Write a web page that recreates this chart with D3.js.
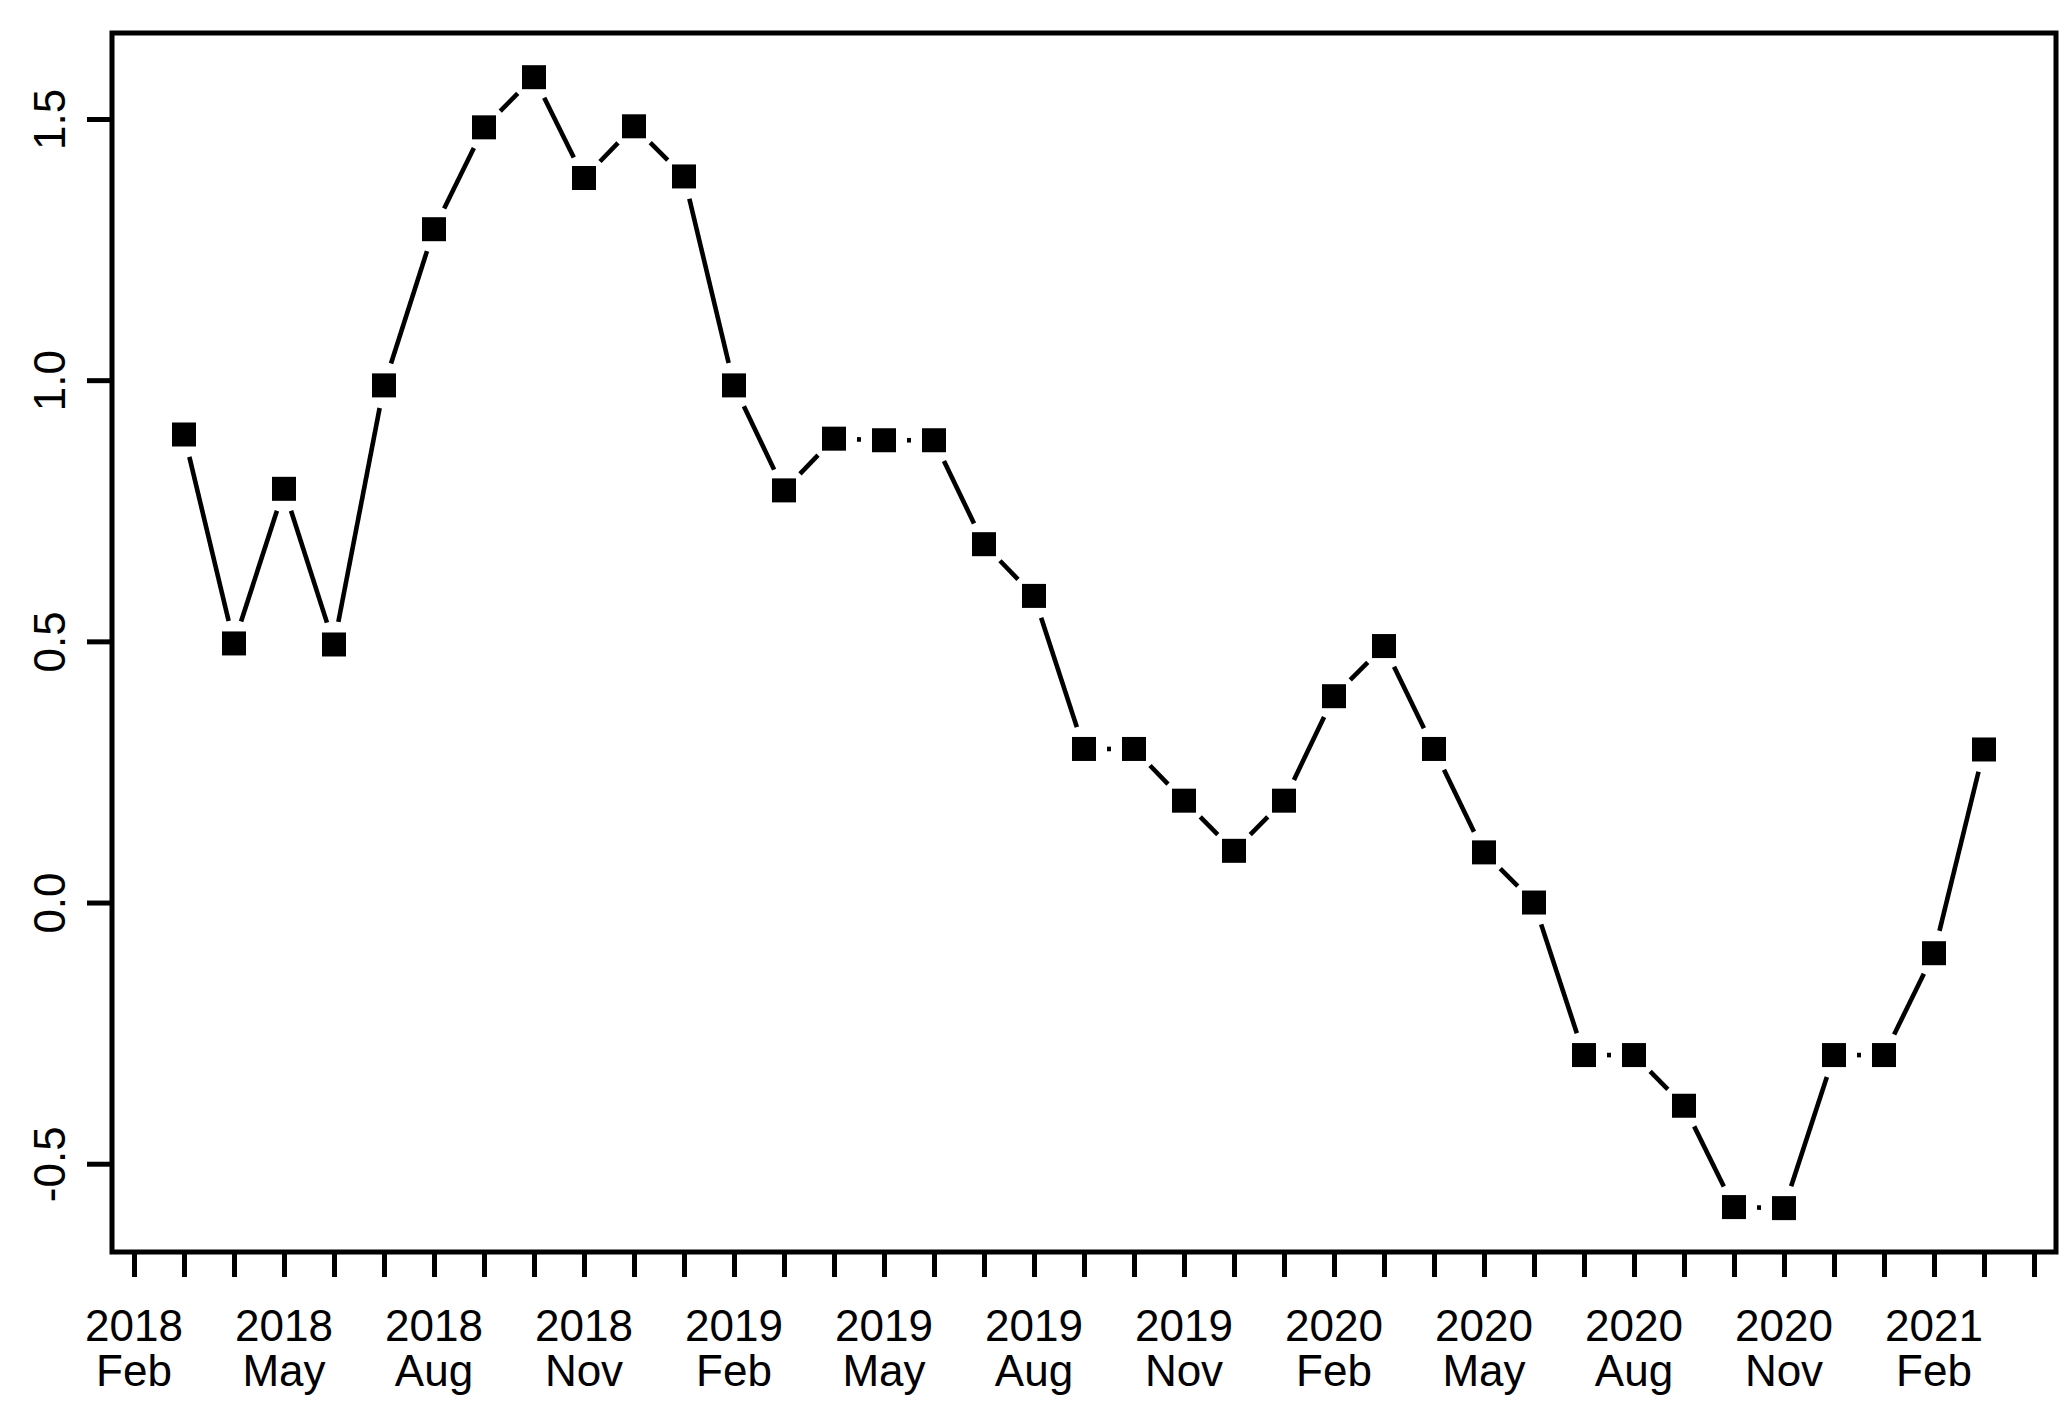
<!DOCTYPE html>
<html>
<head>
<meta charset="utf-8">
<script src="https://cdn.jsdelivr.net/npm/d3@7"></script>
<style>
  html, body { margin: 0; padding: 0; background: #ffffff; }
  svg { display: block; }
  text { font-family: "Liberation Sans", Arial, Helvetica, sans-serif; fill: #000; }
</style>
</head>
<body>
<svg id="chart" width="2072" height="1413"></svg>
<script>
// ---------- data ----------
const months = [
  "2018-03","2018-04","2018-05","2018-06","2018-07","2018-08","2018-09","2018-10","2018-11","2018-12",
  "2019-01","2019-02","2019-03","2019-04","2019-05","2019-06","2019-07","2019-08","2019-09","2019-10","2019-11","2019-12",
  "2020-01","2020-02","2020-03","2020-04","2020-05","2020-06","2020-07","2020-08","2020-09","2020-10","2020-11","2020-12",
  "2021-01","2021-02","2021-03"
];
const values = [
  0.896, 0.496, 0.792, 0.494, 0.990, 1.289, 1.484, 1.580, 1.387, 1.486,
  1.390, 0.990, 0.789, 0.888, 0.885, 0.885, 0.686, 0.587, 0.294, 0.294, 0.195, 0.099,
  0.195, 0.395, 0.491, 0.294, 0.096, 0.000, -0.292, -0.292, -0.389, -0.583, -0.585, -0.292,
  -0.292, -0.097, 0.293
];
// x-axis ticks (every month), labelled every third month
const tickMonths = [
  "2018-02","2018-03","2018-04","2018-05","2018-06","2018-07","2018-08","2018-09","2018-10","2018-11","2018-12",
  "2019-01","2019-02","2019-03","2019-04","2019-05","2019-06","2019-07","2019-08","2019-09","2019-10","2019-11","2019-12",
  "2020-01","2020-02","2020-03","2020-04","2020-05","2020-06","2020-07","2020-08","2020-09","2020-10","2020-11","2020-12",
  "2021-01","2021-02","2021-03","2021-04"
];
const labelMonths = ["2018-02","2018-05","2018-08","2018-11","2019-02","2019-05","2019-08","2019-11","2020-02","2020-05","2020-08","2020-11","2021-02"];
const labelYears  = ["2018","2018","2018","2018","2019","2019","2019","2019","2020","2020","2020","2020","2021"];
const labelNames  = ["Feb","May","Aug","Nov","Feb","May","Aug","Nov","Feb","May","Aug","Nov","Feb"];
const yTicks = [-0.5, 0.0, 0.5, 1.0, 1.5];
const yTickLabels = ["-0.5", "0.0", "0.5", "1.0", "1.5"];

// ---------- layout ----------
const W = 2072, H = 1413;
const box = { left: 112, right: 2056, top: 33, bottom: 1252 };
const tickLen = 25;
const fontSize = 44;
const markerSize = 24;
const gap = 23;        // gap between marker centre and line segment (R type="b")
const lineW = 4.6;
const axisW = 5;

const monthIndex = s => { const [y, m] = s.split("-").map(Number); return (y - 2018) * 12 + (m - 2); };

const n0 = monthIndex(months[0]), n1 = monthIndex(months[months.length - 1]);
const padX = 0.04 * (n1 - n0);
const x = d3.scaleLinear().domain([n0 - padX, n1 + padX]).range([box.left, box.right]);
const y = d3.scaleLinear().domain([-0.669, 1.6646]).range([box.bottom, box.top]);

const svg = d3.select("#chart");
svg.append("rect").attr("width", W).attr("height", H).attr("fill", "#fff");

// ---------- data lines with gaps ----------
const pts = months.map((m, i) => [x(monthIndex(m)), y(values[i])]);
const segs = [];
for (let i = 0; i < pts.length - 1; i++) {
  const [x1, y1] = pts[i], [x2, y2] = pts[i + 1];
  const dx = x2 - x1, dy = y2 - y1, d = Math.hypot(dx, dy);
  if (d > 2 * gap) {
    const ux = dx / d, uy = dy / d;
    segs.push([x1 + ux * gap, y1 + uy * gap, x2 - ux * gap, y2 - uy * gap]);
  }
}
svg.append("g").selectAll("line").data(segs).join("line")
  .attr("x1", d => d[0]).attr("y1", d => d[1]).attr("x2", d => d[2]).attr("y2", d => d[3])
  .attr("stroke", "#000").attr("stroke-width", lineW).attr("stroke-linecap", "butt");

// ---------- markers ----------
svg.append("g").selectAll("rect").data(months).join("rect")
  .attr("x", (m, i) => x(monthIndex(m)) - markerSize / 2)
  .attr("y", (m, i) => y(values[i]) - markerSize / 2)
  .attr("width", markerSize).attr("height", markerSize)
  .attr("fill", "#000");

// ---------- box ----------
svg.append("rect")
  .attr("x", box.left).attr("y", box.top)
  .attr("width", box.right - box.left).attr("height", box.bottom - box.top)
  .attr("fill", "none").attr("stroke", "#000").attr("stroke-width", axisW);

// ---------- x axis ----------
const xAxis = d3.axisBottom(x)
  .tickValues(tickMonths.map(monthIndex))
  .tickSize(tickLen)
  .tickFormat(() => "");
const gx = svg.append("g").attr("transform", `translate(0,${box.bottom})`).call(xAxis);
gx.select(".domain").remove();
gx.selectAll(".tick line").attr("stroke", "#000").attr("stroke-width", axisW);
gx.selectAll(".tick text").remove();
const gxl = svg.append("g").attr("font-size", fontSize).attr("text-anchor", "middle");
labelMonths.forEach((m, i) => {
  const t = gxl.append("text").attr("x", x(monthIndex(m)));
  t.append("tspan").attr("x", x(monthIndex(m))).attr("y", box.bottom + 89).text(labelYears[i]);
  t.append("tspan").attr("x", x(monthIndex(m))).attr("y", box.bottom + 134).text(labelNames[i]);
});

// ---------- y axis ----------
const yAxis = d3.axisLeft(y)
  .tickValues(yTicks)
  .tickSize(tickLen)
  .tickFormat((d, i) => yTickLabels[i]);
const gy = svg.append("g").attr("transform", `translate(${box.left},0)`).call(yAxis);
gy.select(".domain").remove();
gy.selectAll(".tick line").attr("stroke", "#000").attr("stroke-width", axisW);
gy.selectAll(".tick text")
  .attr("x", null).attr("dy", null)
  .attr("transform", "translate(-47,0) rotate(-90)")
  .attr("text-anchor", "middle")
  .attr("font-size", fontSize)
  .attr("font-family", "'Liberation Sans', Arial, Helvetica, sans-serif")
  .attr("fill", "#000");
</script>
</body>
</html>
